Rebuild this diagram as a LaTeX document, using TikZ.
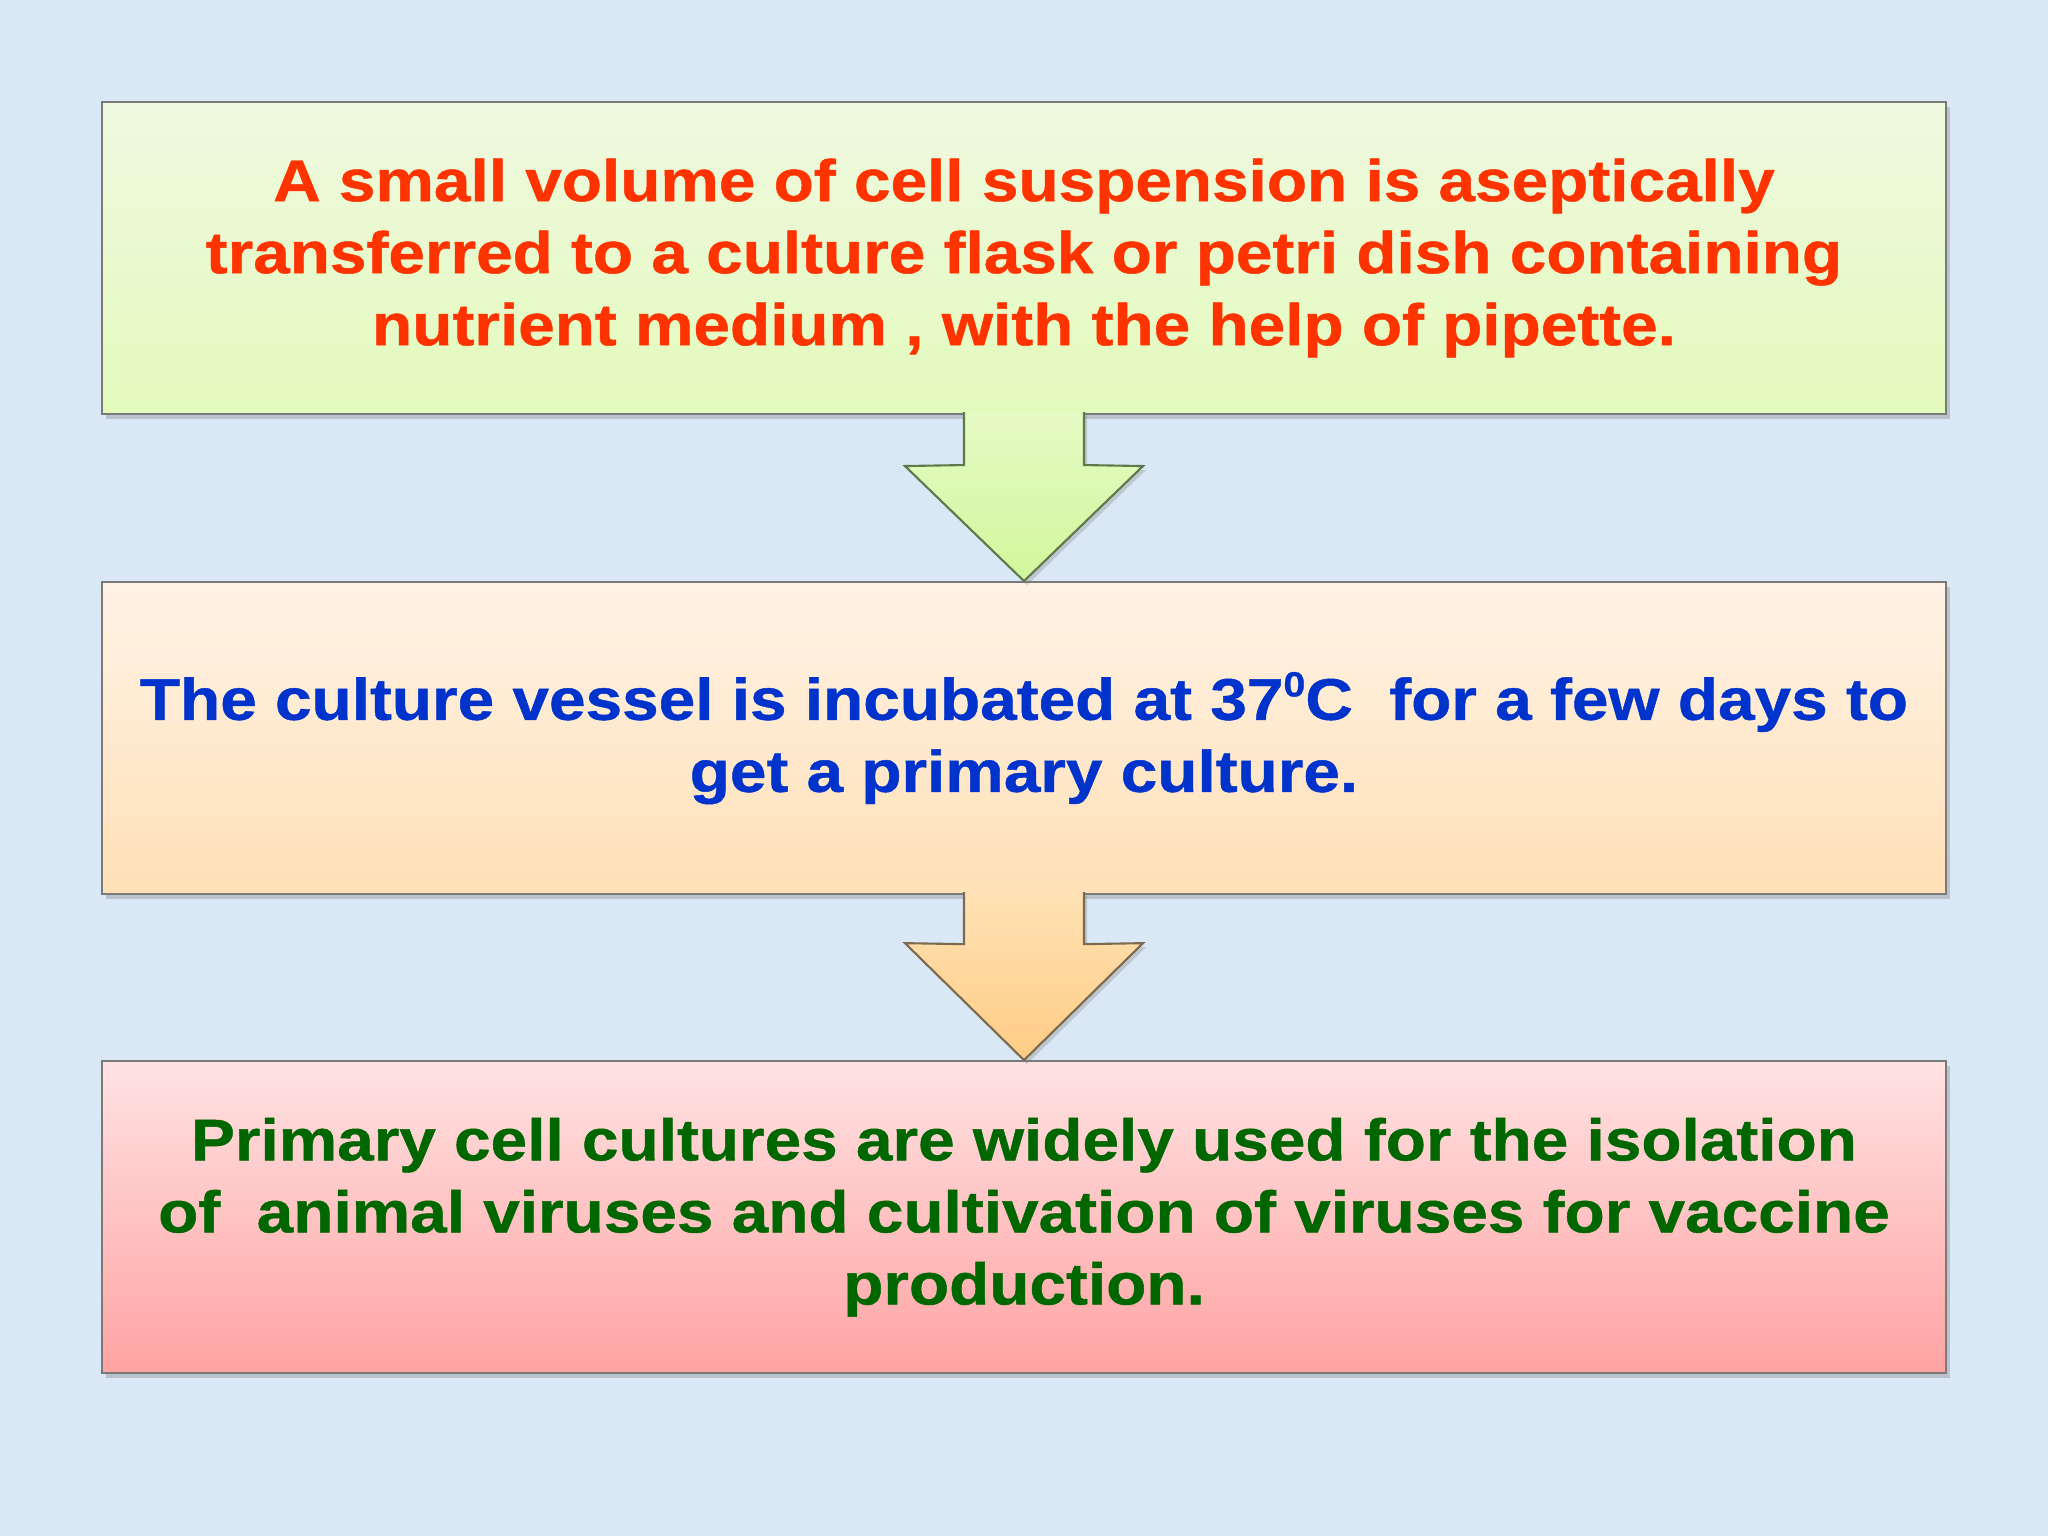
\documentclass[tikz,border=0pt]{standalone}
\usepackage{fontspec}
\setmainfont[FakeStretch=1.12, FakeBold=0.8]{Liberation Sans}
\usetikzlibrary{positioning, calc, shadows}

\definecolor{slidebg}{HTML}{DAE7F4}
\definecolor{edgegray}{HTML}{7A7A7A}
\definecolor{stepred}{HTML}{FF3300}
\definecolor{stepblue}{HTML}{0033CC}
\definecolor{stepgreen}{HTML}{006600}
\definecolor{greentop}{HTML}{EFF9E0}
\definecolor{greenbot}{HTML}{E3FABC}
\definecolor{peachtop}{HTML}{FFF3E6}
\definecolor{peachbot}{HTML}{FFE0B6}
\definecolor{pinktop}{HTML}{FFE2E2}
\definecolor{pinkbot}{HTML}{FFA3A3}
\definecolor{garrowtop}{HTML}{E6FAC4}
\definecolor{garrowbot}{HTML}{D2F79C}
\definecolor{garrowedge}{HTML}{5E7A4A}
\definecolor{parrowtop}{HTML}{FFE1B4}
\definecolor{parrowbot}{HTML}{FFCC85}
\definecolor{parrowedge}{HTML}{7A6A50}

\tikzset{
  % step boxes
  stepbox/.style  = { draw=edgegray, line width=0.6pt, minimum width=18.44cm,
                       minimum height=3.12cm, align=center,
                       font=\fontsize{16.7}{20.5}\selectfont\bfseries,
                       drop shadow={opacity=0.35, shadow xshift=0.04cm, shadow yshift=-0.05cm} },
  greenbox/.style = { stepbox, top color=greentop, bottom color=greenbot, text=stepred },
  peachbox/.style = { stepbox, top color=peachtop, bottom color=peachbot, text=stepblue },
  pinkbox/.style  = { stepbox, top color=pinktop, bottom color=pinkbot, text=stepgreen },
  % block arrows
  blockarrow/.style = { line width=0.6pt, line join=miter,
                        drop shadow={opacity=0.3, shadow xshift=0.03cm, shadow yshift=-0.04cm} },
  greenarrow/.style = { blockarrow, draw=garrowedge, top color=garrowtop, bottom color=garrowbot },
  peacharrow/.style = { blockarrow, draw=parrowedge, top color=parrowtop, bottom color=parrowbot }
}

\begin{document}
\begin{tikzpicture}

  \fill[slidebg] (0,0) rectangle (20.48,-15.36);
  \useasboundingbox (0,0) rectangle (20.48,-15.36);

  \node[greenbox] (culture) at (10.24,-2.58)
    {A small volume of cell suspension is aseptically\\
     transferred to a culture flask or petri dish containing\\
     nutrient medium , with the help of pipette.};
  \node[peachbox, below=1.66cm of culture] (incubate)
    {The culture vessel is incubated at 37\raisebox{0.75ex}{\fontsize{10}{10}\selectfont 0}C\ \ for a few days to\\
     get a primary culture.};
  \node[pinkbox, below=1.65cm of incubate] (primary)
    {Primary cell cultures are widely used for the isolation\\
     of\ \ animal viruses and cultivation of viruses for vaccine\\
     production.};

  \draw[greenarrow] ($(culture.south)+(-0.6,0.03)$) -- ($(culture.south)+(-0.6,-0.5)$)
    -- ($(incubate.north)+(-1.19,1.15)$) -- (incubate.north)
    -- ($(incubate.north)+(1.19,1.15)$) -- ($(culture.south)+(0.6,-0.5)$)
    -- ($(culture.south)+(0.6,0.03)$);
  \draw[peacharrow] ($(incubate.south)+(-0.6,0.03)$) -- ($(incubate.south)+(-0.6,-0.49)$)
    -- ($(primary.north)+(-1.19,1.17)$) -- (primary.north)
    -- ($(primary.north)+(1.19,1.17)$) -- ($(incubate.south)+(0.6,-0.49)$)
    -- ($(incubate.south)+(0.6,0.03)$);

\end{tikzpicture}
\end{document}
